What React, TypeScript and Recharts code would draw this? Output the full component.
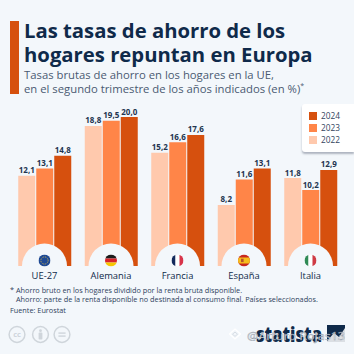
import React from "react";
import { BarChart, Bar, XAxis, YAxis, LabelList, Legend } from "recharts";

const categories = ["UE-27", "Alemania", "Francia", "España", "Italia"];
const values2022 = [12.1, 18.8, 15.2, 8.2, 11.8];
const values2023 = [13.1, 19.5, 16.6, 11.6, 10.2];
const values2024 = [14.8, 20.0, 17.6, 13.1, 12.9];
const data = categories.map((name, i) => ({
  name,
  y2022: values2022[i],
  y2023: values2023[i],
  y2024: values2024[i],
}));

const BG = "#f3f7fb";
const FONT = "'Open Sans', sans-serif";
const C24 = "#d6500e";
const C23 = "#ff8548";
const C22 = "#ffc9ad";
const NAVY = "#0f2a4a";
const legendItems = [
  { label: "2024", color: C24 },
  { label: "2023", color: C23 },
  { label: "2022", color: C22 },
];

const fmt = (v: any) => String(Number(v).toFixed(1)).replace(".", ",");

function Flag({ name, id }: { name: string; id: string }) {
  const r = 6;
  let body: React.ReactNode = null;
  if (name === "UE-27") {
    body = (
      <>
        <rect x={-r} y={-r} width={12} height={12} fill="#1f4a94" />
        <circle r={3.6} fill="none" stroke="#d9b84a" strokeWidth={0.9} strokeDasharray="1 0.9" />
      </>
    );
  } else if (name === "Alemania") {
    body = (
      <>
        <rect x={-r} y={-r} width={12} height={4} fill="#1c1c1c" />
        <rect x={-r} y={-2} width={12} height={4} fill="#d8232a" />
        <rect x={-r} y={2} width={12} height={4} fill="#f7c600" />
      </>
    );
  } else if (name === "Francia") {
    body = (
      <>
        <rect x={-r} y={-r} width={4} height={12} fill="#12295c" />
        <rect x={-2} y={-r} width={4} height={12} fill="#ffffff" />
        <rect x={2} y={-r} width={4} height={12} fill="#d8344a" />
      </>
    );
  } else if (name === "España") {
    body = (
      <>
        <rect x={-r} y={-r} width={12} height={12} fill="#c8281e" />
        <rect x={-r} y={-3} width={12} height={6} fill="#f6bd1c" />
        <rect x={-3} y={-1.8} width={2.6} height={3.4} fill="#b5542a" />
      </>
    );
  } else {
    body = (
      <>
        <rect x={-r} y={-r} width={4} height={12} fill="#2f8a55" />
        <rect x={-2} y={-r} width={4} height={12} fill="#ffffff" />
        <rect x={2} y={-r} width={4} height={12} fill="#cf3a44" />
      </>
    );
  }
  return (
    <g>
      <clipPath id={id}>
        <circle r={r} />
      </clipPath>
      <g clipPath={`url(#${id})`}>{body}</g>
    </g>
  );
}

function CategoryTick(props: any) {
  const { x, payload, index } = props;
  const base = 266;
  return (
    <g>
      <clipPath id={`semi-${index}`}>
        <rect x={x - 30} y={base - 30} width={60} height={30} />
      </clipPath>
      <circle cx={x} cy={base} r={22.5} fill={BG} clipPath={`url(#semi-${index})`} />
      <g transform={`translate(${x},${base - 5.5})`}>
        <Flag name={payload.value} id={`flag-${index}`} />
      </g>
      <text x={x} y={278.5} textAnchor="middle" fontFamily={FONT} fontSize={9.4} fill={NAVY}>
        {payload.value}
      </text>
    </g>
  );
}

function LegendBox() {
  return (
    <div
      style={{
        width: 52,
        height: 48,
        background: "#ffffff",
        borderRadius: "3px 0 0 3px",
        boxShadow: "0 2px 2px rgba(90,100,120,0.45)",
        position: "relative",
      }}
    >
      {legendItems.map((it, i) => (
        <div key={it.label} style={{ position: "absolute", left: 7, top: 7.5 + i * 12.3, display: "flex", alignItems: "center" }}>
          <span style={{ width: 8, height: 8, background: it.color, display: "inline-block" }} />
          <span style={{ marginLeft: 4, fontFamily: FONT, fontSize: 8.3, color: "#33445e", lineHeight: "8px" }}>{it.label}</span>
        </div>
      ))}
    </div>
  );
}

const labelStyle = { fontFamily: FONT, fontSize: 8, fontWeight: 700, fill: "#22344f" };

function BarLabels({ k }: { k: string }) {
  return (
    <LabelList dataKey={k} position="top" offset={2.5} formatter={fmt} style={labelStyle} />
  );
}

function CcIcon({ x, kind }: { x: number; kind: string }) {
  const c = "#cfd5db";
  return (
    <g transform={`translate(${x},334.5)`}>
      <circle r={7.9} fill="none" stroke={c} strokeWidth={1.5} />
      {kind === "cc" && (
        <text y={2.4} textAnchor="middle" fontFamily={FONT} fontSize={7.5} fontWeight={700} fill={c}>cc</text>
      )}
      {kind === "by" && (
        <>
          <circle cy={-3.8} r={1.4} fill={c} />
          <rect x={-1.9} y={-1.9} width={3.8} height={7} rx={0.8} fill={c} />
        </>
      )}
      {kind === "eq" && (
        <>
          <rect x={-3.6} y={-2.1} width={7.2} height={1.4} fill={c} />
          <rect x={-3.6} y={0.9} width={7.2} height={1.4} fill={c} />
        </>
      )}
    </g>
  );
}

function Footer() {
  return (
    <svg width={354} height={354} style={{ position: "absolute", left: 0, top: 0, pointerEvents: "none" }}>
      <CcIcon x={17} kind="cc" />
      <CcIcon x={40.5} kind="by" />
      <CcIcon x={62} kind="eq" />
      <text x={256} y={342} fontFamily={FONT} fontSize={21} fontWeight={800} fill={NAVY} textLength={66} lengthAdjust="spacingAndGlyphs">statista</text>
      <rect x={327} y={325} width={18} height={17} fill={NAVY} />
      <path d="M327 341 L334 333 L339 337 L345 328 L345 342 L327 342 Z" fill="#ffffff" opacity={0.85} />
      <path d="M235 329 l5.5 5 l-5.5 5 l-5.5 -5 z" fill="none" stroke="#ffffff" strokeWidth={1.2} />
      <path d="M235 332 l2.5 2.2 l-2.5 2.2 l-2.5 -2.2 z" fill="none" stroke="#c9d0d8" strokeWidth={0.7} />
      <text x={247} y={340} fontFamily={FONT} fontSize={11} fill="#ffffff" stroke="#8b95a3" strokeWidth={0.4} opacity={0.9} textLength={98} lengthAdjust="spacingAndGlyphs">@Arturo Rojas13</text>
    </svg>
  );
}

export default function App() {
  return (
    <div style={{ position: "fixed", left: 0, top: 0, width: 354, height: 354, background: BG, overflow: "hidden" }}>
      <div style={{ position: "absolute", left: 10, top: 21, width: 9, height: 73, background: C24 }} />
      <div style={{ position: "absolute", left: 24, top: 18, fontFamily: FONT, fontWeight: 700, fontSize: 20.3, lineHeight: "24px", color: NAVY, whiteSpace: "nowrap" }}>
        Las tasas de ahorro de los
        <br />
        hogares repuntan en Europa
      </div>
      <div style={{ position: "absolute", left: 24, top: 68, fontFamily: FONT, fontSize: 11.3, lineHeight: "14px", color: "#4a5a72", whiteSpace: "nowrap" }}>
        Tasas brutas de ahorro en los hogares en la UE,
        <br />
        en el segundo trimestre de los años indicados (en %)<sup style={{ fontSize: 7, lineHeight: 0 }}>*</sup>
      </div>
      <div style={{ position: "absolute", left: 0, top: 0 }}>
        <BarChart
          width={354}
          height={354}
          data={data}
          margin={{ top: 117, right: 10.25, bottom: 58, left: 11.25 }}
          barSize={17}
          barGap={1}
        >
          <YAxis hide domain={[0, 20]} />
          <Legend
            layout="vertical"
            align="center"
            verticalAlign="middle"
            content={() => <LegendBox />}
            wrapperStyle={{ position: "absolute", left: 302, top: 104, width: 52, height: 48 }}
          />
          <Bar dataKey="y2022" fill={C22} isAnimationActive={false}>
            {BarLabels({ k: "y2022" })}
          </Bar>
          <Bar dataKey="y2023" fill={C23} isAnimationActive={false}>
            {BarLabels({ k: "y2023" })}
          </Bar>
          <Bar dataKey="y2024" fill={C24} isAnimationActive={false}>
            {BarLabels({ k: "y2024" })}
          </Bar>
          <XAxis dataKey="name" axisLine={false} tickLine={false} height={30} interval={0} tick={<CategoryTick />} />
        </BarChart>
      </div>
      <div style={{ position: "absolute", left: 10, top: 286, fontFamily: FONT, fontSize: 7.3, lineHeight: "9px", color: "#2e3f5c", whiteSpace: "nowrap" }}>
        * Ahorro bruto en los hogares dividido por la renta bruta disponible.
        <br />
        <span style={{ marginLeft: 6 }}>Ahorro: parte de la renta disponible no destinada al consumo final. Países seleccionados.</span>
        <div style={{ marginTop: 1.5 }}>Fuente: Eurostat</div>
      </div>
      <Footer />
    </div>
  );
}
